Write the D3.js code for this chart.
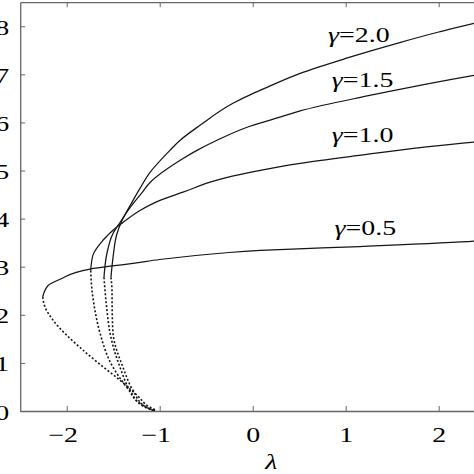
<!DOCTYPE html>
<html>
<head>
<meta charset="utf-8">
<script src="https://cdn.jsdelivr.net/npm/d3@7/dist/d3.min.js"></script>
<style>
  html, body { margin: 0; padding: 0; background: #fff; }
  svg { display: block; }
</style>
</head>
<body>
<svg id="chart" width="474" height="474"></svg>
<script>
// ---------------- data ----------------
const xTicks = [-2, -1, 0, 1, 2];
const yTicks = [0, 1, 2, 3, 4, 5, 6, 7, 8];
const gammaLabels = ["2.0", "1.5", "1.0", "0.5"];
const labelLambda = [0.81, 0.85, 0.85, 0.88];
const labelY = [7.67, 6.73, 5.59, 3.65];

// upper (stable, solid) branches: [lambda, value]
const g05Upper = [[-2.258,2.37],[-2.20,2.61],[-2.07,2.74],[-1.75,2.95],[-1.535,3.01],[-1.287,3.07],[-1.0,3.15],[-0.35,3.28],[0.08,3.34],[0.62,3.38],[1.15,3.42],[2.38,3.53],[2.5,3.55]];
const g10Upper = [[-1.742,2.92],[-1.718,3.24],[-1.61,3.55],[-1.502,3.76],[-1.395,3.92],[-1.212,4.17],[-0.997,4.38],[-0.75,4.55],[-0.384,4.80],[-0.03,4.96],[0.51,5.15],[1.046,5.29],[2.38,5.59],[2.5,5.61]];
const g15Upper = [[-1.599,2.78],[-1.567,3.28],[-1.502,3.69],[-1.427,3.92],[-1.319,4.23],[-1.19,4.54],[-1.104,4.75],[-0.749,5.25],[-0.60,5.42],[-0.384,5.63],[-0.03,5.92],[0.326,6.13],[0.51,6.24],[1.23,6.55],[2.38,6.98],[2.5,7.02]];
const g20Upper = [[-1.524,2.78],[-1.502,3.19],[-1.459,3.69],[-1.405,3.96],[-1.287,4.38],[-1.212,4.63],[-1.104,4.96],[-0.89,5.42],[-0.78,5.63],[-0.567,5.94],[-0.212,6.40],[0.0,6.60],[0.154,6.73],[0.51,7.02],[1.0,7.33],[1.58,7.66],[2.0,7.88],[2.38,8.06],[2.5,8.11]];

// lower (unstable, dotted) branches
const g05Lower = [[-2.258,2.37],[-2.233,2.16],[-2.147,1.89],[-1.857,1.32],[-1.642,0.97],[-1.427,0.64],[-1.244,0.33],[-1.104,0.08],[-1.03,0.01]];
const g10Lower = [[-1.742,2.92],[-1.728,2.51],[-1.696,2.09],[-1.642,1.62],[-1.502,0.91],[-1.352,0.49],[-1.18,0.12],[-1.05,0.0]];
const g15Lower = [[-1.599,2.78],[-1.588,2.51],[-1.567,2.09],[-1.534,1.62],[-1.427,0.91],[-1.319,0.43],[-1.18,0.1],[-1.05,0.0]];
const g20Lower = [[-1.524,2.78],[-1.513,2.51],[-1.511,2.09],[-1.502,1.62],[-1.395,0.91],[-1.287,0.43],[-1.16,0.1],[-1.05,0.0]];

const upperBranches = [g20Upper, g15Upper, g10Upper, g05Upper];
const lowerBranches = [g20Lower, g15Lower, g10Lower, g05Lower];

// ---------------- layout ----------------
const FONT = "'Liberation Serif', 'Times New Roman', serif";
const svg = d3.select("#chart").attr("font-family", FONT);
const mLeft = 20.2, mRight = 485.2, mTop = 2.2, mBottom = 411;
const x = d3.scaleLinear().domain([-2.5, 2.5]).range([mLeft, mRight]);
const y = d3.scaleLinear().domain([0, 8.5]).range([mBottom, mTop]);
const SX = 1.33; // horizontal stretch of the glyphs in the original
const FS = 21;
const axisColor = "#666";

svg.append("defs").append("clipPath").attr("id", "plotclip")
  .append("rect").attr("x", mLeft).attr("y", mTop).attr("width", mRight - mLeft).attr("height", mBottom - mTop);

function styleAxis(g) {
  g.attr("font-family", null).attr("font-size", null);
  g.select(".domain").attr("stroke", axisColor).attr("stroke-width", 1.3);
  g.selectAll(".tick line").attr("stroke", axisColor).attr("stroke-width", 1);
}

// bottom axis
const gx = svg.append("g").attr("transform", `translate(0,${mBottom})`)
  .call(d3.axisBottom(x).tickValues(xTicks).tickSizeInner(-5).tickSizeOuter(0).tickPadding(0)
        .tickFormat(d => String(d).replace("-", "\u2212")));
styleAxis(gx);
gx.selectAll(".tick text")
  .attr("x", 0).attr("y", 0).attr("dy", null)
  .attr("transform", d => `translate(${d < 0 ? -4 : 0},31) scale(${SX},1)`)
  .attr("font-size", FS).attr("fill", "#000").style("font-family", FONT);

// left axis
const gy = svg.append("g").attr("transform", `translate(${mLeft},0)`)
  .call(d3.axisLeft(y).tickValues(yTicks).tickSizeInner(-5).tickSizeOuter(0).tickPadding(0));
styleAxis(gy);
gy.selectAll(".tick text")
  .attr("x", 0).attr("dy", null).attr("y", 0)
  .attr("transform", `translate(-11,8) scale(${SX},1)`)
  .attr("font-size", FS).attr("fill", "#000").style("font-family", FONT);

// top and right border
const gt = svg.append("g").attr("transform", `translate(0,${mTop})`)
  .call(d3.axisTop(x).tickValues(xTicks).tickSizeInner(-5).tickSizeOuter(0).tickFormat(""));
styleAxis(gt);
const gr = svg.append("g").attr("transform", `translate(${mRight},0)`)
  .call(d3.axisRight(y).tickValues(yTicks).tickSizeInner(-5).tickSizeOuter(0).tickFormat(""));
styleAxis(gr);

// axis label
svg.append("text")
  .attr("transform", `translate(${x(0.2)},469) scale(${SX},1)`)
  .attr("text-anchor", "middle").attr("font-size", FS).attr("font-style", "italic")
  .style("font-family", FONT)
  .text("\u03bb");

// curves
const line = d3.line().x(d => x(d[0])).y(d => y(d[1])).curve(d3.curveMonotoneY);
const plot = svg.append("g").attr("clip-path", "url(#plotclip)");
plot.selectAll("path.upper").data(upperBranches).join("path")
  .attr("class", "upper").attr("d", line)
  .attr("fill", "none").attr("stroke", "#151515").attr("stroke-width", 1.25);
plot.selectAll("path.lower").data(lowerBranches).join("path")
  .attr("class", "lower").attr("d", line)
  .attr("fill", "none").attr("stroke", "#151515").attr("stroke-width", 1.6)
  .attr("stroke-dasharray", "2,2");

// gamma labels
gammaLabels.forEach((lab, i) => {
  const t = svg.append("text")
    .attr("transform", `translate(${x(labelLambda[i])},${y(labelY[i])}) scale(${SX},1)`)
    .attr("font-size", FS).attr("fill", "#000").style("font-family", FONT);
  t.append("tspan").attr("font-style", "italic").text("\u03b3");
  t.append("tspan").text("=" + lab);
});
</script>
</body>
</html>
